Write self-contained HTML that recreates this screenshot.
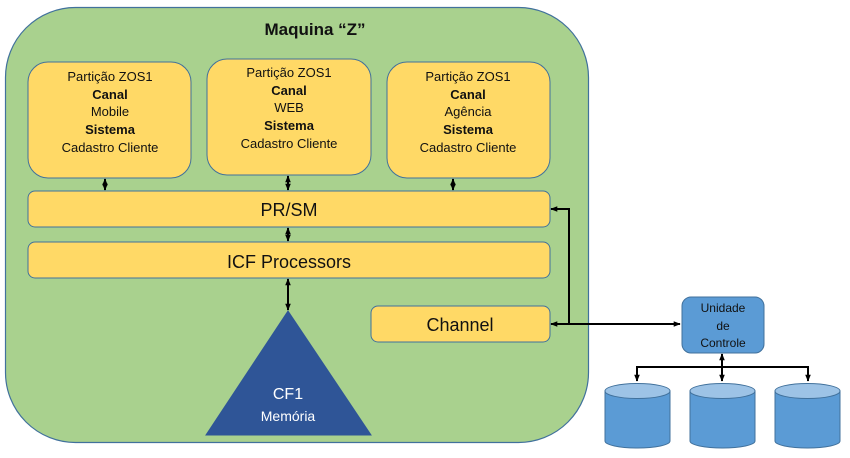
<!DOCTYPE html>
<html><head><meta charset="utf-8"><style>
html,body{margin:0;padding:0;background:#fff}
svg{display:block}
text{font-family:"Liberation Sans",sans-serif;fill:#111}
</style></head><body>
<svg width="850" height="458" viewBox="0 0 850 458" xmlns="http://www.w3.org/2000/svg">
<defs>
<marker id="a" viewBox="0 0 10 10" refX="9" refY="5" markerWidth="7" markerHeight="7" markerUnits="userSpaceOnUse" orient="auto-start-reverse"><path d="M0,1L10,5L0,9z" fill="#000"/></marker>
</defs>
<rect x="5.5" y="7.5" width="583" height="435" rx="70" fill="#a9d18e" stroke="#41719c" stroke-width="1.2"/>
<text x="315" y="35" font-size="17" font-weight="bold" text-anchor="middle">Maquina “Z”</text>

<g fill="#ffd966" stroke="#41719c" stroke-width="1">
<rect x="28" y="62" width="163" height="116" rx="20"/>
<rect x="207" y="59" width="164" height="116" rx="20"/>
<rect x="387" y="62" width="163" height="116" rx="20"/>
<rect x="28" y="191" width="522" height="36" rx="7"/>
<rect x="28" y="242" width="522" height="36" rx="7"/>
<rect x="371" y="306" width="179" height="36" rx="7"/>
</g>
<g font-size="13" text-anchor="middle">
<text x="110" y="81">Partição ZOS1</text>
<text x="110" y="99" font-weight="bold">Canal</text>
<text x="110" y="116">Mobile</text>
<text x="110" y="134" font-weight="bold">Sistema</text>
<text x="110" y="152">Cadastro Cliente</text>
<text x="289" y="77">Partição ZOS1</text>
<text x="289" y="95" font-weight="bold">Canal</text>
<text x="289" y="112">WEB</text>
<text x="289" y="130" font-weight="bold">Sistema</text>
<text x="289" y="148">Cadastro Cliente</text>
<text x="468" y="81">Partição ZOS1</text>
<text x="468" y="99" font-weight="bold">Canal</text>
<text x="468" y="116">Agência</text>
<text x="468" y="134" font-weight="bold">Sistema</text>
<text x="468" y="152">Cadastro Cliente</text>
</g>
<text x="289" y="216" font-size="18" text-anchor="middle">PR/SM</text>
<text x="289" y="268" font-size="18" text-anchor="middle">ICF Processors</text>
<text x="460" y="331" font-size="18" text-anchor="middle">Channel</text>

<polygon points="288,311 206,435 371,435" fill="#2f5597" stroke="#2f5597"/>
<text x="288" y="399" font-size="16" text-anchor="middle" style="fill:#fff">CF1</text>
<text x="288" y="421" font-size="14" text-anchor="middle" style="fill:#fff">Memória</text>

<g stroke="#000" stroke-width="2" fill="none">
<line x1="105" y1="179" x2="105" y2="190" marker-start="url(#a)" marker-end="url(#a)"/>
<line x1="288" y1="176" x2="288" y2="190" marker-start="url(#a)" marker-end="url(#a)"/>
<line x1="453" y1="179" x2="453" y2="190" marker-start="url(#a)" marker-end="url(#a)"/>
<line x1="288" y1="228" x2="288" y2="241" marker-start="url(#a)" marker-end="url(#a)"/>
<line x1="288" y1="279" x2="288" y2="310" marker-start="url(#a)" marker-end="url(#a)"/>
<polyline points="551,209 569,209 569,324" marker-start="url(#a)"/>
<line x1="551" y1="324" x2="680" y2="324" marker-start="url(#a)" marker-end="url(#a)"/>
<line x1="722" y1="354" x2="722" y2="381" marker-start="url(#a)" marker-end="url(#a)"/>
<polyline points="637,381 637,367 808,367 808,381" marker-start="url(#a)" marker-end="url(#a)"/>
</g>

<rect x="682" y="297" width="82" height="56" rx="9" fill="#5b9bd5" stroke="#41719c"/>
<g font-size="12" text-anchor="middle">
<text x="723" y="312">Unidade</text>
<text x="723" y="330">de</text>
<text x="723" y="347">Controle</text>
</g>

<g stroke="#41719c" stroke-width="1">
<path d="M605,391 L605,441 A32.5,7 0 0 0 670,441 L670,391 Z" fill="#5b9bd5"/>
<ellipse cx="637.5" cy="391" rx="32.5" ry="7.5" fill="#9dc3e6"/>
<path d="M690,391 L690,441 A32.5,7 0 0 0 755,441 L755,391 Z" fill="#5b9bd5"/>
<ellipse cx="722.5" cy="391" rx="32.5" ry="7.5" fill="#9dc3e6"/>
<path d="M775,391 L775,441 A32.5,7 0 0 0 840,441 L840,391 Z" fill="#5b9bd5"/>
<ellipse cx="807.5" cy="391" rx="32.5" ry="7.5" fill="#9dc3e6"/>
</g>
</svg>
</body></html>
